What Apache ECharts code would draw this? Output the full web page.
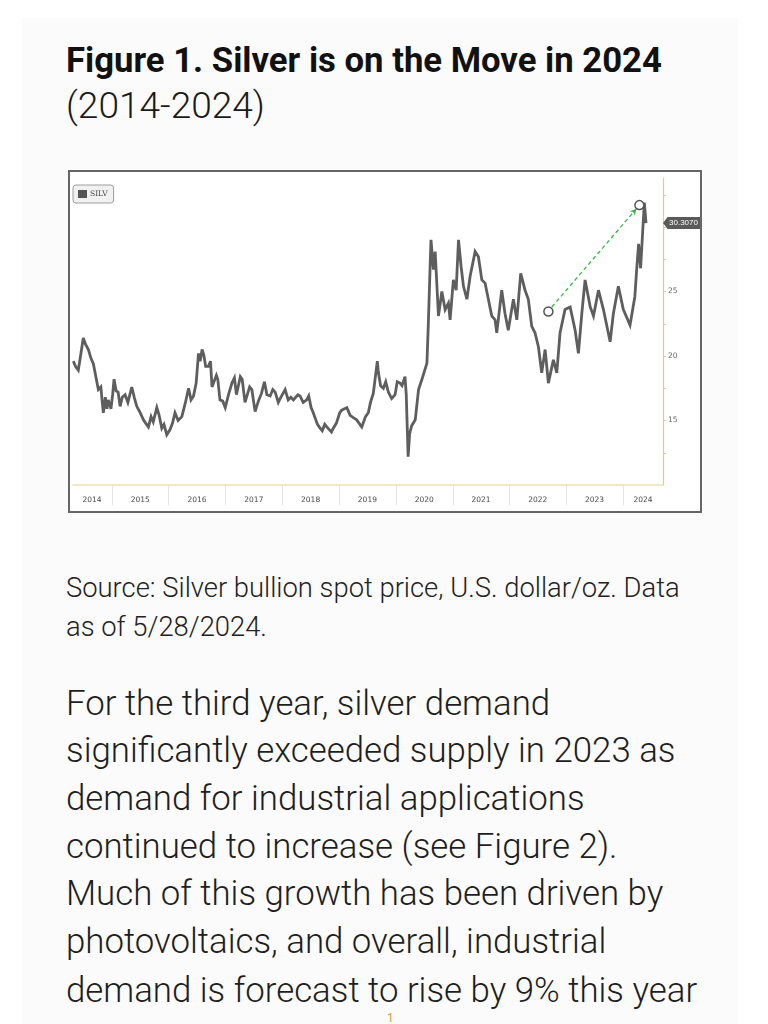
<!DOCTYPE html>
<html>
<head>
<meta charset="utf-8">
<script src="https://cdn.jsdelivr.net/npm/echarts@6/dist/echarts.min.js"></script>
<style>
    html, body { margin: 0; padding: 0; background: #ffffff; }
    body { width: 768px; height: 1024px; position: relative; overflow: hidden; font-family: Roboto, "Open Sans", sans-serif; }
    .card { position: absolute; left: 22px; top: 18px; width: 716px; height: 1006px; background: #fbfbfb; }
    .ln { position: absolute; left: 66px; white-space: nowrap; }
    .ln span { display: inline-block; }
    .title { font-weight: 700; color: #111; height: 40px; line-height: 40px; }
    .sub { font-weight: 300; color: #1a1a1a; height: 40px; line-height: 40px; }
    .src { font-weight: 300; color: #222; height: 30px; line-height: 30px; }
    .para { font-weight: 300; color: #1e1e1e; height: 44px; line-height: 44px; }
    #chart { position: absolute; left: 68px; top: 170px; width: 634px; height: 343px; border: 2px solid #666; box-sizing: border-box; background: #fff; }
    .pnum { position: absolute; left: 387px; top: 1011px; font-size: 12px; color: #c9a24a; }
</style>
</head>
<body>
<div class="card"></div>

<div class="ln title" data-w="596" style="top:40px"><span>Figure 1. Silver is on the Move in 2024</span></div>
<div class="ln sub" data-w="199" style="top:86px"><span>(2014-2024)</span></div>

<div id="chart"></div>

<div class="ln src" data-w="609" style="top:573px"><span>Source: Silver bullion spot price, U.S. dollar/oz. Data</span></div>
<div class="ln src" data-w="206" style="top:612px"><span>as of 5/28/2024.</span></div>

<div class="ln para" data-w="491" style="top:681px"><span>For the third year, silver demand</span></div>
<div class="ln para" data-w="596" style="top:728px"><span>significantly exceeded supply in 2023 as</span></div>
<div class="ln para" data-w="519" style="top:776px"><span>demand for industrial applications</span></div>
<div class="ln para" data-w="548" style="top:824px"><span>continued to increase (see Figure 2).</span></div>
<div class="ln para" data-w="602" style="top:871px"><span>Much of this growth has been driven by</span></div>
<div class="ln para" data-w="547" style="top:919px"><span>photovoltaics, and overall, industrial</span></div>
<div class="ln para" data-w="631" style="top:968px"><span>demand is forecast to rise by 9% this year</span></div>

<div class="pnum">1</div>

<script>
    // silver spot price
    const dates = [
        '2014-04-28', '2014-05-12', '2014-05-30', '2014-06-16', '2014-07-01', '2014-07-16', '2014-08-03', '2014-08-20',
        '2014-09-04', '2014-09-20', '2014-10-06', '2014-10-22', '2014-11-02', '2014-11-07', '2014-11-20', '2014-11-30',
        '2014-12-09', '2014-12-26', '2015-01-06', '2015-01-15', '2015-01-28', '2015-02-10', '2015-02-23', '2015-03-09',
        '2015-03-27', '2015-04-14', '2015-05-09', '2015-05-25', '2015-06-10', '2015-06-28', '2015-07-23', '2015-08-06',
        '2015-08-24', '2015-09-10', '2015-09-24', '2015-10-17', '2015-11-01', '2015-11-18', '2015-12-02', '2015-12-20',
        '2016-01-10', '2016-01-26', '2016-02-11', '2016-03-02', '2016-03-26', '2016-04-18', '2016-05-08', '2016-05-24',
        '2016-06-09', '2016-06-26', '2016-07-11', '2016-07-22', '2016-08-03', '2016-08-14', '2016-08-26', '2016-09-13',
        '2016-09-26', '2016-10-06', '2016-10-16', '2016-11-03', '2016-11-12', '2016-11-26', '2016-12-14', '2016-12-30',
        '2017-01-20', '2017-02-11', '2017-02-27', '2017-03-12', '2017-04-06', '2017-04-18', '2017-05-06', '2017-05-18',
        '2017-06-05', '2017-06-19', '2017-07-10', '2017-07-31', '2017-08-20', '2017-09-08', '2017-09-24', '2017-10-15',
        '2017-11-01', '2017-11-16', '2017-12-06', '2017-12-18', '2018-01-19', '2018-02-08', '2018-02-25', '2018-03-13',
        '2018-04-11', '2018-04-25', '2018-05-15', '2018-06-07', '2018-06-20', '2018-07-05', '2018-07-19', '2018-08-15',
        '2018-09-01', '2018-09-15', '2018-10-01', '2018-10-14', '2018-11-13', '2018-11-25', '2018-12-15', '2019-01-05',
        '2019-01-18', '2019-02-20', '2019-03-13', '2019-04-05', '2019-04-24', '2019-05-27', '2019-06-20', '2019-07-08',
        '2019-07-22', '2019-08-09', '2019-08-20', '2019-09-04', '2019-09-11', '2019-09-25', '2019-10-13', '2019-10-28',
        '2019-11-14', '2019-12-05', '2019-12-27', '2020-01-10', '2020-01-28', '2020-02-10', '2020-02-29', '2020-03-08',
        '2020-03-20', '2020-03-30', '2020-04-12', '2020-05-05', '2020-05-26', '2020-06-17', '2020-07-19', '2020-07-28',
        '2020-08-06', '2020-08-14', '2020-08-30', '2020-09-10', '2020-10-01', '2020-10-23', '2020-11-13', '2020-12-04',
        '2020-12-15', '2021-01-05', '2021-01-23', '2021-02-07', '2021-02-24', '2021-03-11', '2021-04-02', '2021-04-23',
        '2021-05-25', '2021-06-15', '2021-07-07', '2021-07-28', '2021-08-18', '2021-09-09', '2021-09-30', '2021-10-11',
        '2021-11-12', '2021-12-03', '2021-12-24', '2022-01-26', '2022-02-17', '2022-03-14', '2022-04-11', '2022-05-02',
        '2022-05-24', '2022-06-14', '2022-07-06', '2022-07-27', '2022-08-18', '2022-09-08', '2022-10-10', '2022-11-01',
        '2022-11-22', '2022-12-24', '2023-01-26', '2023-02-27', '2023-03-20', '2023-04-11', '2023-05-02', '2023-06-04',
        '2023-06-25', '2023-07-27', '2023-08-28', '2023-10-10', '2023-10-31', '2023-12-02', '2024-01-03', '2024-02-15',
        '2024-03-17', '2024-03-27', '2024-04-10', '2024-04-23', '2024-05-17', '2024-05-28'
    ]
    const prices = [
        19.6, 19.2, 18.9, 20.2, 21.4, 20.9, 20.5, 19.8,
        19.4, 18.4, 17.4, 17.6, 16.2, 15.6, 16.8, 15.9,
        16.6, 15.9, 17.0, 18.2, 17.3, 17.2, 16.1, 16.8,
        17.0, 16.4, 17.6, 16.8, 16.1, 15.7, 15.05, 14.8,
        14.5, 15.3, 14.9, 16.0, 15.4, 14.4, 14.7, 13.9,
        14.3, 14.8, 15.6, 15.0, 15.3, 16.4, 17.5, 16.6,
        16.9, 17.9, 20.2, 19.6, 20.5, 20.1, 19.2, 19.2,
        19.6, 17.6, 17.5, 18.5, 18.2, 16.6, 16.5, 16.0,
        17.0, 17.9, 18.3, 17.0, 18.4, 18.2, 16.4, 16.5,
        17.6, 17.4, 15.7, 16.5, 17.1, 18.0, 17.0, 16.9,
        17.4, 17.2, 16.4, 16.7, 17.4, 16.6, 16.8, 16.6,
        17.0, 16.9, 16.4, 16.6, 16.9, 16.0, 15.6, 14.7,
        14.4, 14.2, 14.7, 14.5, 14.1, 14.4, 14.8, 15.6,
        15.8, 16.0, 15.4, 15.2, 15.05, 14.5, 15.3, 15.6,
        16.4, 17.1, 17.2, 19.6, 18.7, 17.7, 17.5, 18.0,
        17.2, 16.7, 17.0, 18.0, 17.9, 17.7, 18.4, 17.0,
        12.2, 14.0, 14.6, 15.05, 17.4, 18.2, 19.45, 22.5,
        26.0, 29.0, 26.7, 28.1, 23.1, 25.0, 23.6, 24.1,
        22.8, 25.9, 25.1, 29.0, 26.9, 25.4, 24.4, 26.2,
        28.1, 27.7, 25.9, 25.65, 24.4, 23.1, 22.8, 21.8,
        25.1, 23.3, 22.0, 24.4, 22.8, 26.4, 25.1, 24.4,
        22.3, 21.8, 20.7, 18.7, 20.5, 17.9, 19.7, 18.7,
        21.8, 23.6, 23.8, 22.0, 20.2, 23.3, 25.9, 23.8,
        23.1, 25.1, 23.6, 21.1, 23.3, 25.4, 23.6, 22.4,
        24.6, 26.4, 28.7, 26.8, 31.9, 30.307
    ]
    const seriesName = 'SILV'
    const xStart = '2014-04-26'
    const xEnd = '2024-09-14'
    const yearTicks = ['2015-01-01', '2016-01-01', '2017-01-01', '2018-01-01', '2019-01-01',
        '2020-01-01', '2021-01-01', '2022-01-01', '2023-01-01', '2024-01-01']
    // year labels sit in the middle of each visible year span
    const yearLabelDates = ['2014-08-26', '2015-07-02', '2016-07-02', '2017-07-02', '2018-07-02', '2019-07-02',
        '2020-07-02', '2021-07-02', '2022-07-02', '2023-07-02', '2024-05-08']
    const yMin = 10
    const yMax = 33.8
    const yTicks = [12.5, 15, 17.5, 20, 22.5, 25, 27.5, 30, 32.5]
    const yLabels = [15, 20, 25]
    const lastPrice = 30.307
    const circleFrom = ['2022-09-08', 23.45]
    const circleTo = ['2024-04-15', 31.7]
    const trendFrom = ['2022-09-30', 23.8]
    const trendTo = ['2024-03-26', 31.4]

    // fit text lines to the widths measured on the reference
    function fitLines(cls, base) {
        const els = Array.from(document.querySelectorAll('.ln.' + cls))
        let want = 0, got = 0
        els.forEach(el => {
            el.style.fontSize = base + 'px'
            want += +el.dataset.w
            got += el.firstElementChild.getBoundingClientRect().width
        })
        const size = base * want / got
        els.forEach(el => { el.style.fontSize = size + 'px' })
    }
    fitLines('title', 28)
    fitLines('sub', 28)
    fitLines('src', 22)
    fitLines('para', 30)

    // dates as UTC timestamps on a plain value axis
    const t = d => Date.parse(d + 'T00:00:00Z')
    const pt = p => [t(p[0]), p[1]]
    const chart = echarts.init(document.getElementById('chart'))
    chart.setOption({
        animation: false,
        backgroundColor: '#ffffff',
        grid: {left: 3, right: 37, top: 6, bottom: 26},
        legend: {
            left: 3, top: 13,
            data: [seriesName],
            selectedMode: false,
            icon: 'rect',
            itemWidth: 9, itemHeight: 8, itemGap: 3,
            padding: [5, 6, 5, 5],
            borderColor: '#9c9c9c', borderWidth: 1, borderRadius: 3,
            backgroundColor: '#f1f1f1',
            textStyle: {fontSize: 7.5, color: '#444', fontFamily: 'DejaVu Serif', padding: [0, 0, 0, -2]}
        },
        xAxis: {
            type: 'value',
            min: t(xStart),
            max: t(xEnd),
            axisLine: {show: true, lineStyle: {color: '#f3e0ad', width: 1.5}},
            axisTick: {show: true, customValues: yearTicks.map(t), length: 20, lineStyle: {color: '#e3e3e3'}},
            axisLabel: {
                customValues: yearLabelDates.map(t),
                formatter: v => String(new Date(v).getUTCFullYear()),
                color: '#4a4a4a', fontSize: 7.5, margin: 11, fontFamily: 'DejaVu Sans'
            },
            splitLine: {show: false}
        },
        yAxis: {
            type: 'value',
            position: 'right',
            min: yMin, max: yMax,
            axisLine: {show: true, lineStyle: {color: '#f2c77a', width: 1.2}},
            axisTick: {show: true, customValues: yTicks, length: 3, lineStyle: {color: '#f2c77a'}},
            axisLabel: {customValues: yLabels, color: '#666', fontSize: 7.5, margin: 5, fontFamily: 'DejaVu Sans'},
            splitLine: {show: false}
        },
        series: [{
            name: seriesName,
            type: 'line',
            data: dates.map((d, i) => [t(d), prices[i]]),
            showSymbol: false,
            symbol: 'none',
            lineStyle: {color: '#5e5e5e', width: 2.8, join: 'miter', miterLimit: 4},
            itemStyle: {color: '#555555'},
            markLine: {
                silent: true,
                symbol: ['none', 'arrow'],
                symbolSize: [5, 6],
                label: {show: false},
                lineStyle: {color: '#3bb54a', type: [4, 3], width: 1.3},
                data: [[{coord: pt(trendFrom)}, {coord: pt(trendTo)}]]
            },
            markPoint: {
                silent: true,
                data: [
                    {coord: pt(circleFrom), symbol: 'circle', symbolSize: 9, label: {show: false},
                        itemStyle: {color: '#fff', borderColor: '#555', borderWidth: 1.5}},
                    {coord: pt(circleTo), symbol: 'circle', symbolSize: 9, label: {show: false},
                        itemStyle: {color: '#fff', borderColor: '#555', borderWidth: 1.5}},
                    {coord: [t(xEnd), lastPrice], symbol: 'path://M0,6 L5,0 L40,0 L40,12 L5,12 Z',
                        symbolSize: [37, 12], symbolKeepAspect: false, symbolOffset: ['50%', 0],
                        itemStyle: {color: '#5a5a5a'},
                        label: {show: true, formatter: lastPrice.toFixed(4), color: '#fff', fontSize: 8,
                            overflow: 'none', width: 40, align: 'center', offset: [2, 0]}}
                ]
            }
        }]
    })
</script>
</body>
</html>
